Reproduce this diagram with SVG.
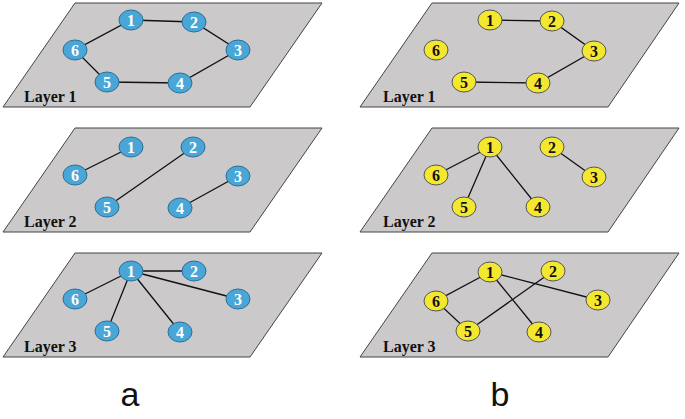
<svg xmlns="http://www.w3.org/2000/svg" width="685" height="419" viewBox="0 0 685 419">
<style>
.pl{fill:#cbc9ca;stroke:#444;stroke-width:1}
.e{stroke:#111;stroke-width:1.3;fill:none}
.b ellipse{fill:#4aa6d6;stroke:#2a6f99;stroke-width:1}
.y ellipse{fill:#f3e82f;stroke:#555;stroke-width:1}
.b text{fill:#fff}
.y text{fill:#111}
text{font-family:"Liberation Serif","Times New Roman",serif;font-weight:bold;font-size:16px;text-anchor:middle}
.lab{font-size:16px;text-anchor:start;fill:#111}
.big{font-family:"Liberation Sans",sans-serif;font-weight:normal;font-size:34px;fill:#111}
</style>
<g id="planes">
<polygon class="pl" points="75,3 322,3 250,107 3,107"/>
<polygon class="pl" points="75,128 322,128 250,232 3,232"/>
<polygon class="pl" points="75,253 322,253 250,357 3,357"/>
<polygon class="pl" points="432,3 679,3 608,107 360,107"/>
<polygon class="pl" points="432,128 679,128 608,232 360,232"/>
<polygon class="pl" points="432,253 679,253 608,357 360,357"/>
</g>
<g id="connectors">
<path class="e" d="M131,20L194,22L238,50L180,83L107,82L75,50Z"/>
<path class="e" d="M131,147L75,175M193,147L107,207M238,176L180,208"/>
<path class="e" d="M131,271L194,271M131,271L75,299M131,271L238,299M131,271L107,331M131,271L180,332"/>
<path class="e" d="M490,20L552,21L594,51L538,83L464,82"/>
<path class="e" d="M490,147L436,175M490,147L464,207M490,147L538,207M552,147L594,177"/>
<path class="e" d="M490,272L436,301L468,331L553,271M490,272L539,332M490,272L598,300"/>
</g>
<g id="labels">
<text class="lab" x="24" y="102">Layer 1</text>
<text class="lab" x="24" y="227">Layer 2</text>
<text class="lab" x="24" y="352">Layer 3</text>
<text class="lab" x="383" y="102">Layer 1</text>
<text class="lab" x="383" y="227">Layer 2</text>
<text class="lab" x="383" y="352">Layer 3</text>
<text class="big" x="130" y="406">a</text>
<text class="big" x="500" y="406">b</text>
</g>
<g id="nodes-a" class="b">
<g id="a1-1"><ellipse cx="131" cy="20" rx="12" ry="10"/><text x="131" y="26">1</text></g>
<g id="a1-2"><ellipse cx="194" cy="22" rx="12" ry="10"/><text x="194" y="28">2</text></g>
<g id="a1-3"><ellipse cx="238" cy="50" rx="12" ry="10"/><text x="238" y="56">3</text></g>
<g id="a1-4"><ellipse cx="180" cy="83" rx="12" ry="10"/><text x="180" y="89">4</text></g>
<g id="a1-5"><ellipse cx="107" cy="82" rx="12" ry="10"/><text x="107" y="88">5</text></g>
<g id="a1-6"><ellipse cx="75" cy="50" rx="12" ry="10"/><text x="75" y="56">6</text></g>
<g id="a2-1"><ellipse cx="131" cy="147" rx="12" ry="10"/><text x="131" y="153">1</text></g>
<g id="a2-2"><ellipse cx="193" cy="147" rx="12" ry="10"/><text x="193" y="153">2</text></g>
<g id="a2-3"><ellipse cx="238" cy="176" rx="12" ry="10"/><text x="238" y="182">3</text></g>
<g id="a2-4"><ellipse cx="180" cy="208" rx="12" ry="10"/><text x="180" y="214">4</text></g>
<g id="a2-5"><ellipse cx="107" cy="207" rx="12" ry="10"/><text x="107" y="213">5</text></g>
<g id="a2-6"><ellipse cx="75" cy="175" rx="12" ry="10"/><text x="75" y="181">6</text></g>
<g id="a3-1"><ellipse cx="131" cy="271" rx="12" ry="10"/><text x="131" y="277">1</text></g>
<g id="a3-2"><ellipse cx="194" cy="271" rx="12" ry="10"/><text x="194" y="277">2</text></g>
<g id="a3-3"><ellipse cx="238" cy="299" rx="12" ry="10"/><text x="238" y="305">3</text></g>
<g id="a3-4"><ellipse cx="180" cy="332" rx="12" ry="10"/><text x="180" y="338">4</text></g>
<g id="a3-5"><ellipse cx="107" cy="331" rx="12" ry="10"/><text x="107" y="337">5</text></g>
<g id="a3-6"><ellipse cx="75" cy="299" rx="12" ry="10"/><text x="75" y="305">6</text></g>
</g>
<g id="nodes-b" class="y">
<g id="b1-1"><ellipse cx="490" cy="20" rx="12" ry="10"/><text x="490" y="26">1</text></g>
<g id="b1-2"><ellipse cx="552" cy="21" rx="12" ry="10"/><text x="552" y="27">2</text></g>
<g id="b1-3"><ellipse cx="594" cy="51" rx="12" ry="10"/><text x="594" y="57">3</text></g>
<g id="b1-4"><ellipse cx="538" cy="83" rx="12" ry="10"/><text x="538" y="89">4</text></g>
<g id="b1-5"><ellipse cx="464" cy="82" rx="12" ry="10"/><text x="464" y="88">5</text></g>
<g id="b1-6"><ellipse cx="436" cy="50" rx="12" ry="10"/><text x="436" y="56">6</text></g>
<g id="b2-1"><ellipse cx="490" cy="147" rx="12" ry="10"/><text x="490" y="153">1</text></g>
<g id="b2-2"><ellipse cx="552" cy="147" rx="12" ry="10"/><text x="552" y="153">2</text></g>
<g id="b2-3"><ellipse cx="594" cy="177" rx="12" ry="10"/><text x="594" y="183">3</text></g>
<g id="b2-4"><ellipse cx="538" cy="207" rx="12" ry="10"/><text x="538" y="213">4</text></g>
<g id="b2-5"><ellipse cx="464" cy="207" rx="12" ry="10"/><text x="464" y="213">5</text></g>
<g id="b2-6"><ellipse cx="436" cy="175" rx="12" ry="10"/><text x="436" y="181">6</text></g>
<g id="b3-1"><ellipse cx="490" cy="272" rx="12" ry="10"/><text x="490" y="278">1</text></g>
<g id="b3-2"><ellipse cx="553" cy="271" rx="12" ry="10"/><text x="553" y="277">2</text></g>
<g id="b3-3"><ellipse cx="598" cy="300" rx="12" ry="10"/><text x="598" y="306">3</text></g>
<g id="b3-4"><ellipse cx="539" cy="332" rx="12" ry="10"/><text x="539" y="338">4</text></g>
<g id="b3-5"><ellipse cx="468" cy="331" rx="12" ry="10"/><text x="468" y="337">5</text></g>
<g id="b3-6"><ellipse cx="436" cy="301" rx="12" ry="10"/><text x="436" y="307">6</text></g>
</g>
</svg>
